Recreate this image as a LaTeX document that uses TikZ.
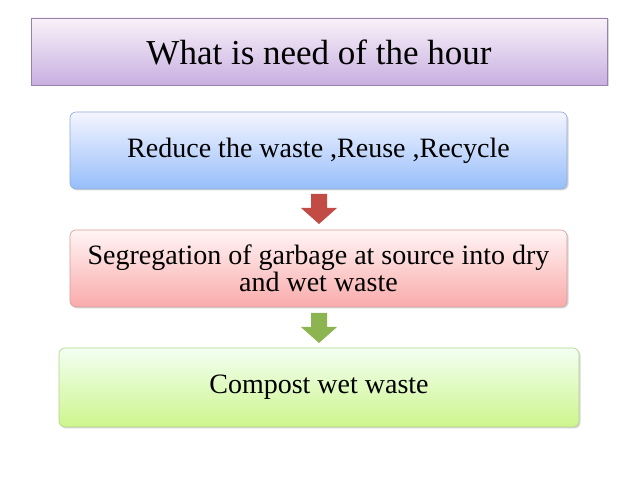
\documentclass[tikz,border=0pt]{standalone}
\usepackage{fontspec}
\setmainfont{Liberation Serif}
\usetikzlibrary{shadows}
\definecolor{titbot}{RGB}{200,175,225}
\definecolor{titbor}{RGB}{150,130,170}
\definecolor{bluebot}{RGB}{150,190,250}
\definecolor{redbot}{RGB}{250,170,170}
\definecolor{grnbot}{RGB}{205,245,140}
\definecolor{grnarr}{RGB}{140,180,80}
\definecolor{redarr}{RGB}{195,75,70}
\begin{document}
\begin{tikzpicture}[x=1pt,y=-1pt,
  boxs/.style={rounded corners=6pt, draw=#1, line width=0.6pt, drop shadow={opacity=0.3,shadow xshift=1.5pt,shadow yshift=-1.5pt}},
  txt/.style={font=\fontsize{28}{30}\selectfont, align=center}]
\useasboundingbox (0,0) rectangle (638,478);
\fill[white] (0,0) rectangle (638,478);
% title
\shade[top color=white!95!violet, bottom color=titbot, draw=titbor, line width=0.6pt, drop shadow={opacity=0.3,shadow xshift=1.5pt,shadow yshift=-1.5pt}] (31,18) rectangle (607,85);
\node[font=\fontsize{35}{38}\selectfont] (title) at (319,52) {What is need of the hour};
% box1
\shade[boxs=bluebot!70!gray, top color=white!96!blue, bottom color=bluebot] (70,112) rectangle (567,189);
\node[txt] (b1) at (318.5,151) {Reduce the waste ,Reuse ,Recycle};
% box2
\shade[boxs=redbot!70!gray, top color=white!96!red, bottom color=redbot] (70,230) rectangle (567,307);
\node[txt] (b2) at (318.5,268) {Segregation of garbage at source into dry\\[-3pt]and wet waste};
% box3
\shade[boxs=grnbot!70!gray, top color=white!95!green, bottom color=grnbot] (59,348) rectangle (579,427);
\node[txt] (b3) at (319,387) {Compost wet waste};
% arrows
\fill[redarr] (311,194) -- (327,194) -- (327,208) -- (337,208) -- (319,224) -- (301,208) -- (311,208) -- cycle;
\fill[grnarr] (311,313) -- (327,313) -- (327,327) -- (337,327) -- (319,343) -- (301,327) -- (311,327) -- cycle;
\end{tikzpicture}
\end{document}
